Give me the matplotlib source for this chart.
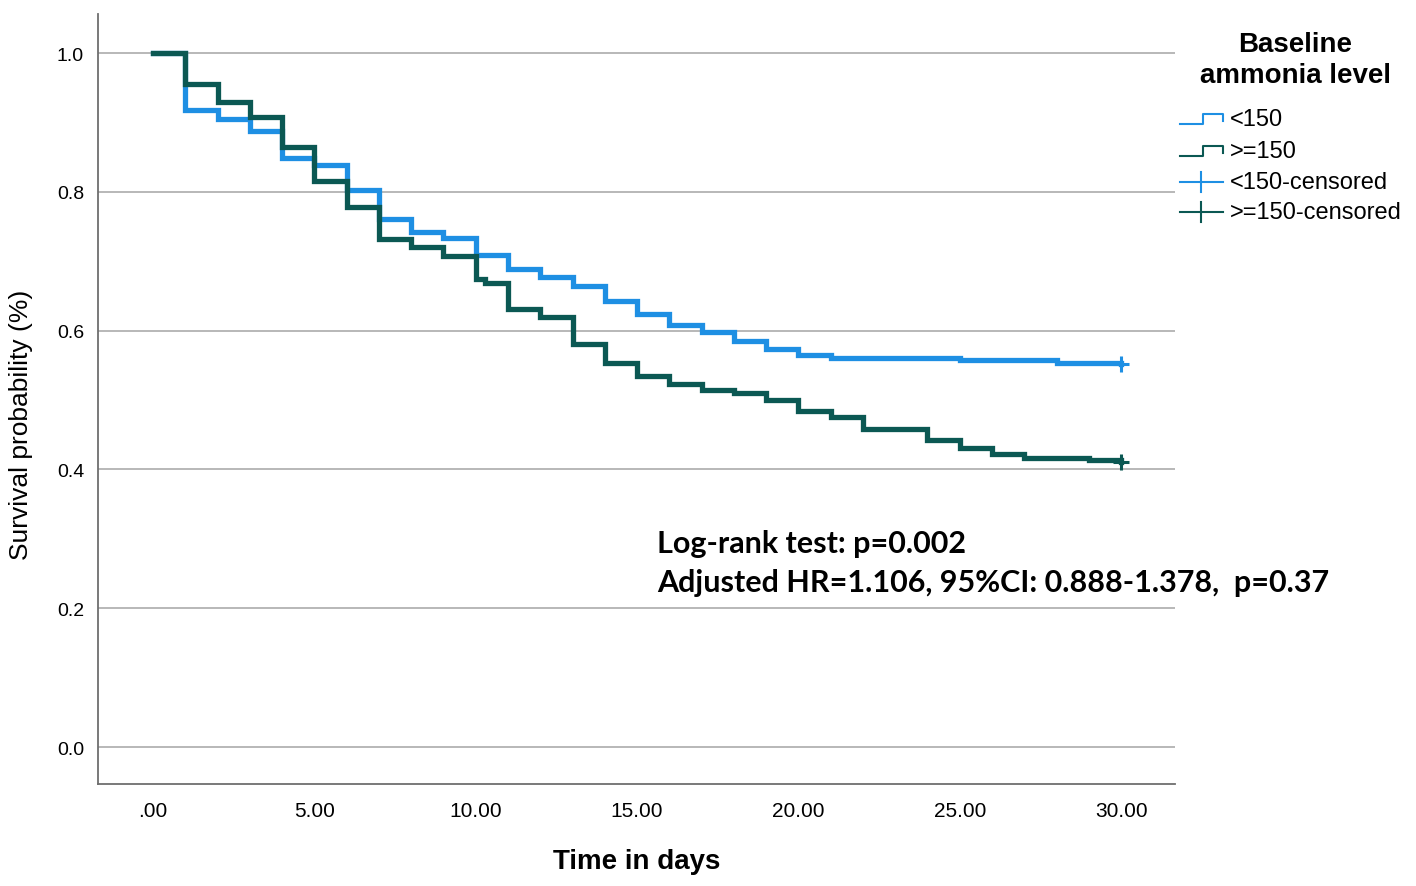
import matplotlib
matplotlib.use("Agg")
from matplotlib import pyplot as plt
from matplotlib.lines import Line2D

# Kaplan-Meier steps
days_low = [0, 1, 2, 3, 4, 5, 6, 7, 8, 9, 10, 11, 12, 13, 14, 15, 16, 17, 18, 19, 20, 21, 25, 28, 30]
surv_low = [1.0, 0.918, 0.905, 0.887, 0.848, 0.838, 0.802, 0.761, 0.742, 0.733, 0.709, 0.689, 0.677,
            0.664, 0.643, 0.624, 0.608, 0.598, 0.585, 0.573, 0.565, 0.560, 0.558, 0.554, 0.552]

days_high = [0, 1, 2, 3, 4, 5, 6, 7, 8, 9, 10, 10.3, 11, 12, 13, 14, 15, 16, 17, 18, 19, 20, 21, 22,
             24, 25, 26, 27, 29, 30]
surv_high = [1.0, 0.956, 0.929, 0.908, 0.865, 0.815, 0.778, 0.732, 0.720, 0.707, 0.674, 0.668, 0.631,
             0.619, 0.581, 0.554, 0.535, 0.523, 0.514, 0.510, 0.500, 0.484, 0.475, 0.458, 0.443, 0.431,
             0.422, 0.417, 0.413, 0.410]

censor_days = [30]
x_ticks = [0, 5, 10, 15, 20, 25, 30]
x_labels = [".00", "5.00", "10.00", "15.00", "20.00", "25.00", "30.00"]
y_ticks = [0.0, 0.2, 0.4, 0.6, 0.8, 1.0]
group_names = ["<150", ">=150"]

BLUE = "#1E8FE3"
DARK = "#0B5853"
ARIAL = ["Liberation Sans", "DejaVu Sans"]
CALIBRI = ["Lato", "DejaVu Sans"]

W, H = 1416, 887


def fx(px):
    return px / W


def fy(py):
    return 1 - py / H


def main():
    fig = plt.figure(figsize=(14.16, 8.87), dpi=100)
    ax = fig.add_axes([fx(98), fy(785), fx(1175) - fx(98), fy(15) - fy(785)])

    ax.step(days_low, surv_low, where="post", color=BLUE, lw=3.8, solid_joinstyle="miter", zorder=3)
    ax.step(days_high, surv_high, where="post", color=DARK, lw=3.8, solid_joinstyle="miter", zorder=4)
    ax.plot(censor_days, [surv_low[-1]], "+", color=BLUE, ms=11, mew=2.2, zorder=5)
    ax.plot(censor_days, [surv_high[-1]], "+", color=DARK, ms=11, mew=2.2, zorder=5)

    ax.set_xlim(-1.705, 31.67)
    ax.set_ylim(-0.0533, 1.0562)
    ax.set_xticks(x_ticks)
    ax.set_xticklabels(x_labels, fontfamily=ARIAL, fontsize=15)
    ax.set_yticks(y_ticks)
    ax.set_yticklabels([f"{v:.1f}" for v in y_ticks], fontfamily=ARIAL, fontsize=14)
    ax.tick_params(length=0, pad=10)
    ax.tick_params(axis="x", pad=12)

    for v in y_ticks:
        ax.axhline(v, color="#b8b8b8", lw=1.4, zorder=1)

    for s in ["top", "right"]:
        ax.spines[s].set_visible(False)
    for s in ["left", "bottom"]:
        ax.spines[s].set_color("#6e6e6e")
        ax.spines[s].set_linewidth(1.3)

    fig.text(fx(637), fy(862), "Time in days", fontfamily=ARIAL, fontsize=20, fontweight="bold",
             ha="center", va="center")
    fig.text(fx(21), fy(425), "Survival probability (%)", fontfamily=ARIAL, fontsize=19,
             rotation=90, ha="center", va="center")

    fig.text(fx(657), fy(544), "Log-rank test: p=0.002", fontfamily=CALIBRI,
             fontsize=22, fontweight="bold", va="center", ha="left")
    fig.text(fx(657), fy(583), "Adjusted HR=1.106, 95%CI: 0.888-1.378,  p=0.37",
             fontfamily=CALIBRI, fontsize=22, fontweight="bold", va="center", ha="left")

    # legend drawn by hand to get the SPSS look
    fig.text(fx(1295), fy(45), "Baseline", fontfamily=ARIAL, fontsize=20, fontweight="bold",
             ha="center", va="center")
    fig.text(fx(1295), fy(76), "ammonia level", fontfamily=ARIAL, fontsize=20, fontweight="bold",
             ha="center", va="center")

    rows = [120, 152, 183, 213]
    labels = group_names + [g + "-censored" for g in group_names]
    colors = [BLUE, DARK, BLUE, DARK]
    for i, (py, lab, c) in enumerate(zip(rows, labels, colors)):
        if i < 2:
            xs = [1180, 1203, 1203, 1223, 1223]
            ys = [py + 5, py + 5, py - 5, py - 5, py + 2]
            fig.add_artist(Line2D([fx(x) for x in xs], [fy(y) for y in ys], color=c, lw=1.5))
        else:
            fig.add_artist(Line2D([fx(1180), fx(1223)], [fy(py), fy(py)], color=c, lw=1.5))
            fig.add_artist(Line2D([fx(1201), fx(1201)], [fy(py - 10), fy(py + 10)], color=c, lw=1.5))
        fig.text(fx(1230), fy(py), lab, fontfamily=ARIAL, fontsize=17, ha="left", va="center")

    fig.savefig("out.png", dpi=100)


if __name__ == "__main__":
    main()
